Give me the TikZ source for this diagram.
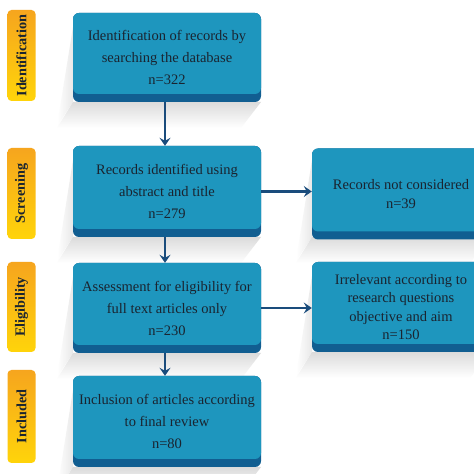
\documentclass[tikz,border=0pt]{standalone}
\usepackage{fontspec}
\setmainfont{Liberation Serif}
\usetikzlibrary{arrows.meta,calc}
\definecolor{boxteal}{HTML}{1E96BE}
\definecolor{boxband}{HTML}{115E91}
\definecolor{txtdark}{HTML}{1A2430}
\definecolor{arrowblue}{HTML}{1A4C7C}
\definecolor{lblorange}{HTML}{F6A51E}
\definecolor{lblyellow}{HTML}{FFD40A}
\tikzset{
  flowbox/.style={rectangle, rounded corners=6pt, inner sep=0pt,
    fill=boxband, text=txtdark, align=center,
    font=\fontsize{14.5}{22}\selectfont,
    path picture={\fill[boxteal] (path picture bounding box.north west)
      rectangle ([yshift=8pt]path picture bounding box.south east);}},
  stagelbl/.style={rectangle, rounded corners=4pt, rotate=90, inner sep=0pt,
    minimum height=28pt, top color=lblorange, bottom color=lblyellow,
    text=txtdark, font=\fontsize{14.2}{16}\selectfont\bfseries},
  flowarrow/.style={draw=arrowblue, line width=2.8pt,
    -{Stealth[length=8pt,width=11pt,inset=3pt]}},
  shadowbelow/.style={top color=black!14, bottom color=white, draw=none},
  shadowleft/.style={left color=white, right color=black!9, draw=none}
}
\begin{document}
\begin{tikzpicture}[x=1pt,y=1pt]
\useasboundingbox (0,0) rectangle (474,474);
\clip (0,0) rectangle (474,474);
\fill[white] (0,0) rectangle (474,474);
% shadows
\foreach \xa/\xb/\ya/\yb in {73/261/372/461, 73/261/237/328, 73/261/121/211, 73/261/7/98, 312/490/237/328, 312/490/122/212}{
  \shade[shadowleft] (\xa,\yb-14) -- (\xa,\ya) -- (\xa-16,\ya-24) -- cycle;
  \shade[shadowbelow] (\xa,\ya) -- (\xb,\ya) -- (\xb-20,\ya-26) -- (\xa-16,\ya-26) -- cycle;
}
% stage labels
\node[stagelbl, minimum width=91pt] (l1) at (21.5,418.5) {Identification};
\node[stagelbl, minimum width=91pt] (l2) at (21.5,280.5) {Screening};
\node[stagelbl, minimum width=90pt] (l3) at (21.5,167) {Eligibility};
\node[stagelbl, minimum width=93pt] (l4) at (21.5,57.5) {Included};
% boxes
\node[flowbox, minimum width=188pt, minimum height=89pt] (b1) at (167,416.5)
  {Identification of records by\\searching the database\\n=322};
\node[flowbox, minimum width=188pt, minimum height=91pt] (b2) at (167,282.5)
  {Records identified using\\abstract and title\\n=279};
\node[flowbox, minimum width=188pt, minimum height=90pt] (b3) at (167,166)
  {Assessment for eligibility for\\full text articles only\\n=230};
\node[flowbox, minimum width=188pt, minimum height=91pt] (b4) at (167,52.5)
  {Inclusion of articles according\\to final review\\n=80};
\node[flowbox, minimum width=178pt, minimum height=91pt, font=\fontsize{14.5}{19}\selectfont] (r1) at (401,280)
  {Records not considered\\n=39};
\node[flowbox, minimum width=178pt, minimum height=90pt, font=\fontsize{14.5}{18.5}\selectfont] (r2) at (401,167)
  {Irrelevant according to\\research questions\\objective and aim\\n=150};
% arrows
\draw[flowarrow] ([xshift=-2pt]b1.south) -- ([xshift=-2pt]b2.north);
\draw[flowarrow] ([xshift=-2pt]b2.south) -- ([xshift=-2pt]b3.north);
\draw[flowarrow] ([xshift=-2pt]b3.south) -- ([xshift=-2pt]b4.north);
\draw[flowarrow] (b2.east) -- (r1.west |- b2.east);
\draw[flowarrow] (b3.east) -- (r2.west |- b3.east);
\end{tikzpicture}
\end{document}
